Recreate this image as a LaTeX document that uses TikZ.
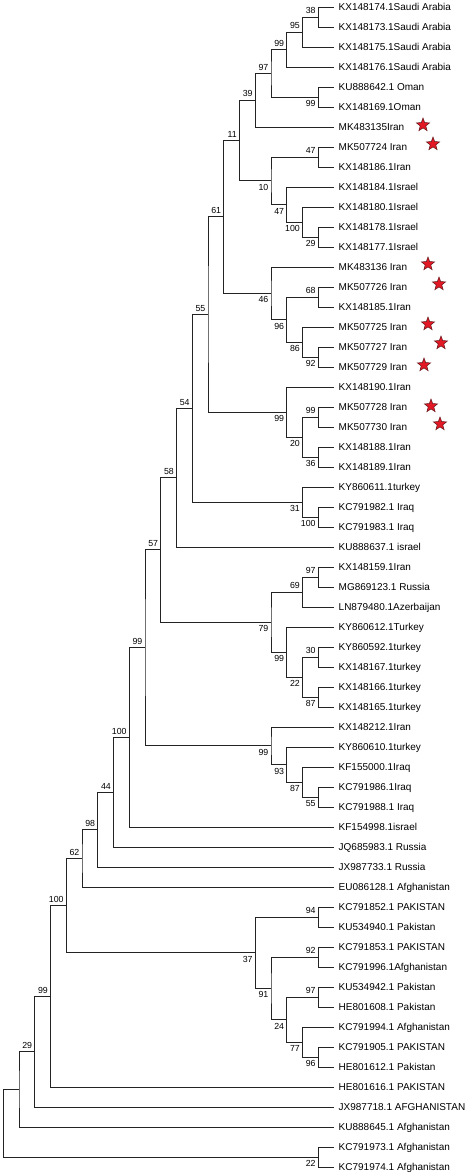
\documentclass[tikz,border=0pt]{standalone}
\usepackage{fontspec}
\setmainfont{Liberation Sans}
\definecolor{starred}{RGB}{226, 24, 36}
\definecolor{stardark}{RGB}{95, 20, 24}
\definecolor{treeline}{RGB}{35, 35, 35}
\usetikzlibrary{shapes.geometric}
\tikzset{
	branch/.style={draw=treeline, line width=0.9pt},
	taxon/.style={anchor=west, inner xsep=4.5pt, inner ysep=0pt, text height=7.2pt, text depth=0pt, font=\fontsize{10}{12}\selectfont},
	boot/.style={inner xsep=2.5pt, inner ysep=3pt, text height=6.3pt, text depth=0pt, font=\fontsize{8.8}{10}\selectfont},
	isolate/.style={star, star points=5, star point ratio=2.4, draw=stardark, fill=starred, line width=0.5pt, minimum size=14pt, inner sep=0pt},
}

\begin{document}
\begin{tikzpicture}[x=1pt, y=-1pt]
		\useasboundingbox (0,0) rectangle (474,1175);
		% taxa
		\node[taxon] (kx148174) at (334,7) {KX148174.1Saudi Arabia};
		\node[taxon] (kx148173) at (334,27) {KX148173.1Saudi Arabia};
		\node[taxon] (kx148175) at (334,47) {KX148175.1Saudi Arabia};
		\node[taxon] (kx148176) at (334,67) {KX148176.1Saudi Arabia};
		\node[taxon] (ku888642) at (334,87) {KU888642.1 Oman};
		\node[taxon] (kx148169) at (334,107) {KX148169.1Oman};
		\node[taxon] (mk483135) at (334,127) {MK483135Iran};
		\node[taxon] (mk507724) at (334,147) {MK507724 Iran};
		\node[taxon] (kx148186) at (334,167) {KX148186.1Iran};
		\node[taxon] (kx148184) at (334,187) {KX148184.1Israel};
		\node[taxon] (kx148180) at (334,207) {KX148180.1Israel};
		\node[taxon] (kx148178) at (334,227) {KX148178.1Israel};
		\node[taxon] (kx148177) at (334,247) {KX148177.1Israel};
		\node[taxon] (mk483136) at (334,267) {MK483136 Iran};
		\node[taxon] (mk507726) at (334,287) {MK507726 Iran};
		\node[taxon] (kx148185) at (334,307) {KX148185.1Iran};
		\node[taxon] (mk507725) at (334,327) {MK507725 Iran};
		\node[taxon] (mk507727) at (334,347) {MK507727 Iran};
		\node[taxon] (mk507729) at (334,367) {MK507729 Iran};
		\node[taxon] (kx148190) at (334,387) {KX148190.1Iran};
		\node[taxon] (mk507728) at (334,407) {MK507728 Iran};
		\node[taxon] (mk507730) at (334,427) {MK507730 Iran};
		\node[taxon] (kx148188) at (334,447) {KX148188.1Iran};
		\node[taxon] (kx148189) at (334,467) {KX148189.1Iran};
		\node[taxon] (ky860611) at (334,487) {KY860611.1turkey};
		\node[taxon] (kc791982) at (334,507) {KC791982.1 Iraq};
		\node[taxon] (kc791983) at (334,527) {KC791983.1 Iraq};
		\node[taxon] (ku888637) at (334,547) {KU888637.1 israel};
		\node[taxon] (kx148159) at (334,567) {KX148159.1Iran};
		\node[taxon] (mg869123) at (334,587) {MG869123.1 Russia};
		\node[taxon] (ln879480) at (334,607) {LN879480.1Azerbaijan};
		\node[taxon] (ky860612) at (334,627) {KY860612.1Turkey};
		\node[taxon] (ky860592) at (334,647) {KY860592.1turkey};
		\node[taxon] (kx148167) at (334,667) {KX148167.1turkey};
		\node[taxon] (kx148166) at (334,687) {KX148166.1turkey};
		\node[taxon] (kx148165) at (334,707) {KX148165.1turkey};
		\node[taxon] (kx148212) at (334,727) {KX148212.1Iran};
		\node[taxon] (ky860610) at (334,747) {KY860610.1turkey};
		\node[taxon] (kf155000) at (334,767) {KF155000.1Iraq};
		\node[taxon] (kc791986) at (334,787) {KC791986.1Iraq};
		\node[taxon] (kc791988) at (334,807) {KC791988.1 Iraq};
		\node[taxon] (kf154998) at (334,827) {KF154998.1israel};
		\node[taxon] (jq685983) at (334,847) {JQ685983.1 Russia};
		\node[taxon] (jx987733) at (334,867) {JX987733.1 Russia};
		\node[taxon] (eu086128) at (334,887) {EU086128.1 Afghanistan};
		\node[taxon] (kc791852) at (334,907) {KC791852.1 PAKISTAN};
		\node[taxon] (ku534940) at (334,927) {KU534940.1 Pakistan};
		\node[taxon] (kc791853) at (334,947) {KC791853.1 PAKISTAN};
		\node[taxon] (kc791996) at (334,967) {KC791996.1Afghanistan};
		\node[taxon] (ku534942) at (334,987) {KU534942.1 Pakistan};
		\node[taxon] (he801608) at (334,1007) {HE801608.1 Pakistan};
		\node[taxon] (kc791994) at (334,1027) {KC791994.1 Afghanistan};
		\node[taxon] (kc791905) at (334,1047) {KC791905.1 PAKISTAN};
		\node[taxon] (he801612) at (334,1067) {HE801612.1 Pakistan};
		\node[taxon] (he801616) at (334,1087) {HE801616.1 PAKISTAN};
		\node[taxon] (jx987718) at (334,1107) {JX987718.1 AFGHANISTAN};
		\node[taxon] (ku888645) at (334,1127) {KU888645.1 Afghanistan};
		\node[taxon] (kc791973) at (334,1147) {KC791973.1 Afghanistan};
		\node[taxon] (kc791974) at (334,1167) {KC791974.1 Afghanistan};
		% internal nodes
		\coordinate (n38) at (318.3,17);
		\coordinate (n95) at (302.5,32);
		\coordinate (n99a) at (286.8,49.5);
		\coordinate (n99b) at (318.3,97);
		\coordinate (n97a) at (271,73.25);
		\coordinate (n39) at (255.3,100.1);
		\coordinate (n47a) at (318.3,157);
		\coordinate (n29a) at (318.3,237);
		\coordinate (n100a) at (302.5,222);
		\coordinate (n47b) at (286.8,204.5);
		\coordinate (n10) at (271,180.75);
		\coordinate (n11) at (239.5,140.4);
		\coordinate (n68) at (318.3,297);
		\coordinate (n92a) at (318.3,357);
		\coordinate (n86) at (302.5,342);
		\coordinate (n96a) at (286.8,319.5);
		\coordinate (n46) at (271,293.25);
		\coordinate (n61) at (223.8,216.8);
		\coordinate (n99c) at (318.3,417);
		\coordinate (n36) at (318.3,457);
		\coordinate (n20) at (302.5,437);
		\coordinate (n99d) at (286.8,412);
		\coordinate (n55a) at (208,314.4);
		\coordinate (n100b) at (318.3,517);
		\coordinate (n31) at (302.5,502);
		\coordinate (n54) at (192.3,408.2);
		\coordinate (n58) at (176.5,477.6);
		\coordinate (n97b) at (318.3,577);
		\coordinate (n69) at (302.5,592);
		\coordinate (n30) at (318.3,657);
		\coordinate (n87a) at (318.3,697);
		\coordinate (n22a) at (302.5,677);
		\coordinate (n99e) at (286.8,652);
		\coordinate (n79) at (271,622);
		\coordinate (n57) at (160.8,549.8);
		\coordinate (n55b) at (318.3,797);
		\coordinate (n87b) at (302.5,782);
		\coordinate (n93) at (286.8,764.5);
		\coordinate (n99f) at (271,745.75);
		\coordinate (n99g) at (145,647.8);
		\coordinate (n100c) at (129.3,737.4);
		\coordinate (n44) at (113.5,792.2);
		\coordinate (n98) at (97.8,829.6);
		\coordinate (n62) at (82,858.3);
		\coordinate (n94) at (318.3,917);
		\coordinate (n92b) at (318.3,957);
		\coordinate (n97c) at (318.3,997);
		\coordinate (n96b) at (318.3,1057);
		\coordinate (n77) at (302.5,1042);
		\coordinate (n24) at (286.8,1019.5);
		\coordinate (n91) at (271,988.25);
		\coordinate (n37) at (255.3,952.6);
		\coordinate (n100d) at (66.3,905.5);
		\coordinate (n99h) at (50.5,996.2);
		\coordinate (n29b) at (34.8,1051.6);
		\coordinate (inner) at (19,1089.3);
		\coordinate (n22b) at (318.3,1157);
		\coordinate (root) at (3.3,1123.2);
		% branches
		\draw[branch] (kx148174) -| (n38) |- (kx148173);
		\draw[branch] (n38) -| (n95) |- (kx148175);
		\draw[branch] (n95) -| (n99a) |- (kx148176);
		\draw[branch] (ku888642) -| (n99b) |- (kx148169);
		\draw[branch] (n99a) -| (n97a) |- (n99b);
		\draw[branch] (n97a) -| (n39) |- (mk483135);
		\draw[branch] (mk507724) -| (n47a) |- (kx148186);
		\draw[branch] (kx148178) -| (n29a) |- (kx148177);
		\draw[branch] (kx148180) -| (n100a) |- (n29a);
		\draw[branch] (kx148184) -| (n47b) |- (n100a);
		\draw[branch] (n47a) -| (n10) |- (n47b);
		\draw[branch] (n39) -| (n11) |- (n10);
		\draw[branch] (mk507726) -| (n68) |- (kx148185);
		\draw[branch] (mk507727) -| (n92a) |- (mk507729);
		\draw[branch] (mk507725) -| (n86) |- (n92a);
		\draw[branch] (n68) -| (n96a) |- (n86);
		\draw[branch] (mk483136) -| (n46) |- (n96a);
		\draw[branch] (n11) -| (n61) |- (n46);
		\draw[branch] (mk507728) -| (n99c) |- (mk507730);
		\draw[branch] (kx148188) -| (n36) |- (kx148189);
		\draw[branch] (n99c) -| (n20) |- (n36);
		\draw[branch] (kx148190) -| (n99d) |- (n20);
		\draw[branch] (n61) -| (n55a) |- (n99d);
		\draw[branch] (kc791982) -| (n100b) |- (kc791983);
		\draw[branch] (ky860611) -| (n31) |- (n100b);
		\draw[branch] (n55a) -| (n54) |- (n31);
		\draw[branch] (n54) -| (n58) |- (ku888637);
		\draw[branch] (kx148159) -| (n97b) |- (mg869123);
		\draw[branch] (n97b) -| (n69) |- (ln879480);
		\draw[branch] (ky860592) -| (n30) |- (kx148167);
		\draw[branch] (kx148166) -| (n87a) |- (kx148165);
		\draw[branch] (n30) -| (n22a) |- (n87a);
		\draw[branch] (ky860612) -| (n99e) |- (n22a);
		\draw[branch] (n69) -| (n79) |- (n99e);
		\draw[branch] (n58) -| (n57) |- (n79);
		\draw[branch] (kc791986) -| (n55b) |- (kc791988);
		\draw[branch] (kf155000) -| (n87b) |- (n55b);
		\draw[branch] (ky860610) -| (n93) |- (n87b);
		\draw[branch] (kx148212) -| (n99f) |- (n93);
		\draw[branch] (n57) -| (n99g) |- (n99f);
		\draw[branch] (n99g) -| (n100c) |- (kf154998);
		\draw[branch] (n100c) -| (n44) |- (jq685983);
		\draw[branch] (n44) -| (n98) |- (jx987733);
		\draw[branch] (n98) -| (n62) |- (eu086128);
		\draw[branch] (kc791852) -| (n94) |- (ku534940);
		\draw[branch] (kc791853) -| (n92b) |- (kc791996);
		\draw[branch] (ku534942) -| (n97c) |- (he801608);
		\draw[branch] (kc791905) -| (n96b) |- (he801612);
		\draw[branch] (kc791994) -| (n77) |- (n96b);
		\draw[branch] (n97c) -| (n24) |- (n77);
		\draw[branch] (n92b) -| (n91) |- (n24);
		\draw[branch] (n94) -| (n37) |- (n91);
		\draw[branch] (n62) -| (n100d) |- (n37);
		\draw[branch] (n100d) -| (n99h) |- (he801616);
		\draw[branch] (n99h) -| (n29b) |- (jx987718);
		\draw[branch] (n29b) -| (inner) |- (ku888645);
		\draw[branch] (kc791973) -| (n22b) |- (kc791974);
		\draw[branch] (inner) -| (root) |- (n22b);
		% bootstrap values
		\node[boot, above left] (b38) at (n38) {38};
		\node[boot, above left] (b95) at (n95) {95};
		\node[boot, above left] (b99a) at (n99a) {99};
		\node[boot, below left] (b99b) at (n99b) {99};
		\node[boot, above left] (b97a) at (n97a) {97};
		\node[boot, above left] (b39) at (n39) {39};
		\node[boot, above left] (b47a) at (n47a) {47};
		\node[boot, below left] (b29a) at (n29a) {29};
		\node[boot, below left] (b100a) at (n100a) {100};
		\node[boot, below left] (b47b) at (n47b) {47};
		\node[boot, below left] (b10) at (n10) {10};
		\node[boot, above left] (b11) at (n11) {11};
		\node[boot, above left] (b68) at (n68) {68};
		\node[boot, below left] (b92a) at (n92a) {92};
		\node[boot, below left] (b86) at (n86) {86};
		\node[boot, below left] (b96a) at (n96a) {96};
		\node[boot, below left] (b46) at (n46) {46};
		\node[boot, above left] (b61) at (n61) {61};
		\node[boot, above left] (b99c) at (n99c) {99};
		\node[boot, below left] (b36) at (n36) {36};
		\node[boot, below left] (b20) at (n20) {20};
		\node[boot, below left] (b99d) at (n99d) {99};
		\node[boot, above left] (b55a) at (n55a) {55};
		\node[boot, below left] (b100b) at (n100b) {100};
		\node[boot, below left] (b31) at (n31) {31};
		\node[boot, above left] (b54) at (n54) {54};
		\node[boot, above left] (b58) at (n58) {58};
		\node[boot, above left] (b97b) at (n97b) {97};
		\node[boot, above left] (b69) at (n69) {69};
		\node[boot, above left] (b30) at (n30) {30};
		\node[boot, below left] (b87a) at (n87a) {87};
		\node[boot, below left] (b22a) at (n22a) {22};
		\node[boot, below left] (b99e) at (n99e) {99};
		\node[boot, below left] (b79) at (n79) {79};
		\node[boot, above left] (b57) at (n57) {57};
		\node[boot, below left] (b55b) at (n55b) {55};
		\node[boot, below left] (b87b) at (n87b) {87};
		\node[boot, below left] (b93) at (n93) {93};
		\node[boot, below left] (b99f) at (n99f) {99};
		\node[boot, above left] (b99g) at (n99g) {99};
		\node[boot, above left] (b100c) at (n100c) {100};
		\node[boot, above left] (b44) at (n44) {44};
		\node[boot, above left] (b98) at (n98) {98};
		\node[boot, above left] (b62) at (n62) {62};
		\node[boot, above left] (b94) at (n94) {94};
		\node[boot, above left] (b92b) at (n92b) {92};
		\node[boot, above left] (b97c) at (n97c) {97};
		\node[boot, below left] (b96b) at (n96b) {96};
		\node[boot, below left] (b77) at (n77) {77};
		\node[boot, below left] (b24) at (n24) {24};
		\node[boot, below left] (b91) at (n91) {91};
		\node[boot, below left] (b37) at (n37) {37};
		\node[boot, above left] (b100d) at (n100d) {100};
		\node[boot, above left] (b99h) at (n99h) {99};
		\node[boot, above left] (b29b) at (n29b) {29};
		\node[boot, below left] (b22b) at (n22b) {22};
		% new Iranian isolates
		\node[isolate] (s483135) at (423,125) {};
		\node[isolate] (s507724) at (433,144) {};
		\node[isolate] (s483136) at (428,264) {};
		\node[isolate] (s507726) at (439,284) {};
		\node[isolate] (s507725) at (428,324) {};
		\node[isolate] (s507727) at (441,343) {};
		\node[isolate] (s507729) at (424,365) {};
		\node[isolate] (s507728) at (431,406) {};
		\node[isolate] (s507730) at (440,424) {};
	\end{tikzpicture}
\end{document}
